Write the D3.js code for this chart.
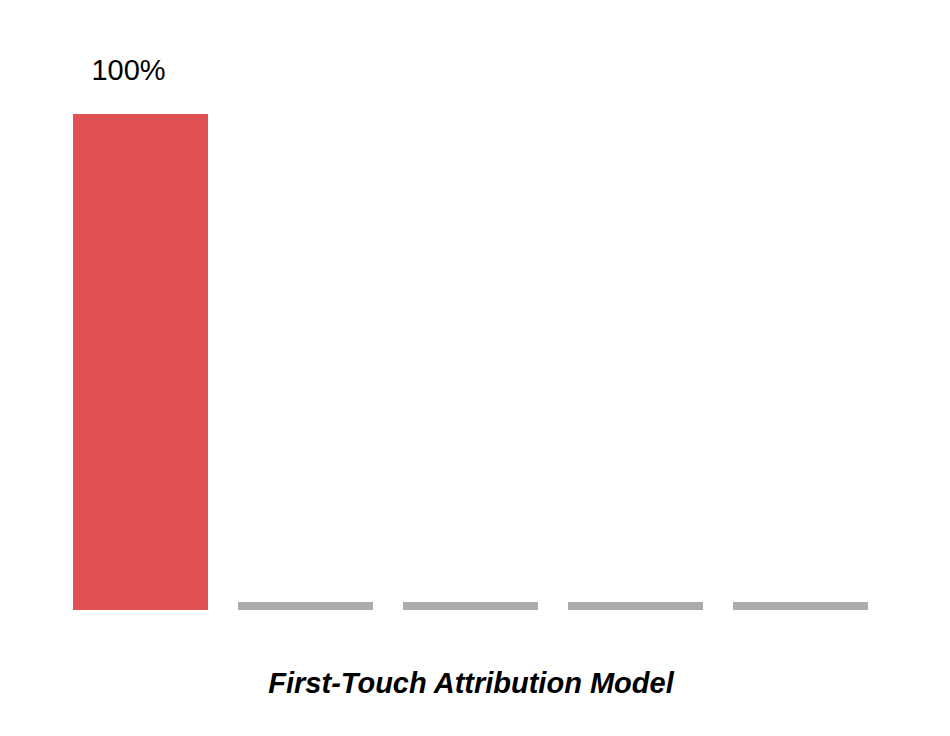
<!DOCTYPE html>
<html><head><meta charset="utf-8">
<script src="https://cdn.jsdelivr.net/npm/d3@7"></script>
<style>body{margin:0;background:#fff}</style>
</head><body>
<script>
const categories = ["Touch 1","Touch 2","Touch 3","Touch 4","Touch 5"];
const values = [100,0,0,0,0];
const labels = ["100%","","","",""];
const title = "First-Touch Attribution Model";

const svg = d3.select("body").append("svg").attr("width",950).attr("height",736);
const x = d3.scaleBand().domain(categories).range([73,868]).paddingInner(0.182).paddingOuter(0);
const y = d3.scaleLinear().domain([0,100]).range([610,114]);

svg.selectAll("rect.bar").data(values).join("rect")
  .attr("x",(d,i)=>x(categories[i]))
  .attr("width",x.bandwidth())
  .attr("y",d=>d>0?y(d):y(0)-8)
  .attr("height",d=>d>0?y(0)-y(d):8)
  .attr("fill",d=>d>0?"#e15151":"#acacac");

svg.selectAll("text.lbl").data(values).join("text")
  .attr("x",(d,i)=>x(categories[i])+x.bandwidth()/2-12)
  .attr("y",d=>y(d)-34)
  .attr("text-anchor","middle")
  .attr("font-family","Liberation Sans, Arial, sans-serif")
  .attr("font-size",29)
  .text((d,i)=>labels[i]);

svg.append("text").attr("x",471).attr("y",693).attr("text-anchor","middle")
  .attr("font-family","Liberation Sans, Arial, sans-serif")
  .attr("font-size",29).attr("font-weight","bold").attr("font-style","italic")
  .text(title);
</script>
</body></html>
